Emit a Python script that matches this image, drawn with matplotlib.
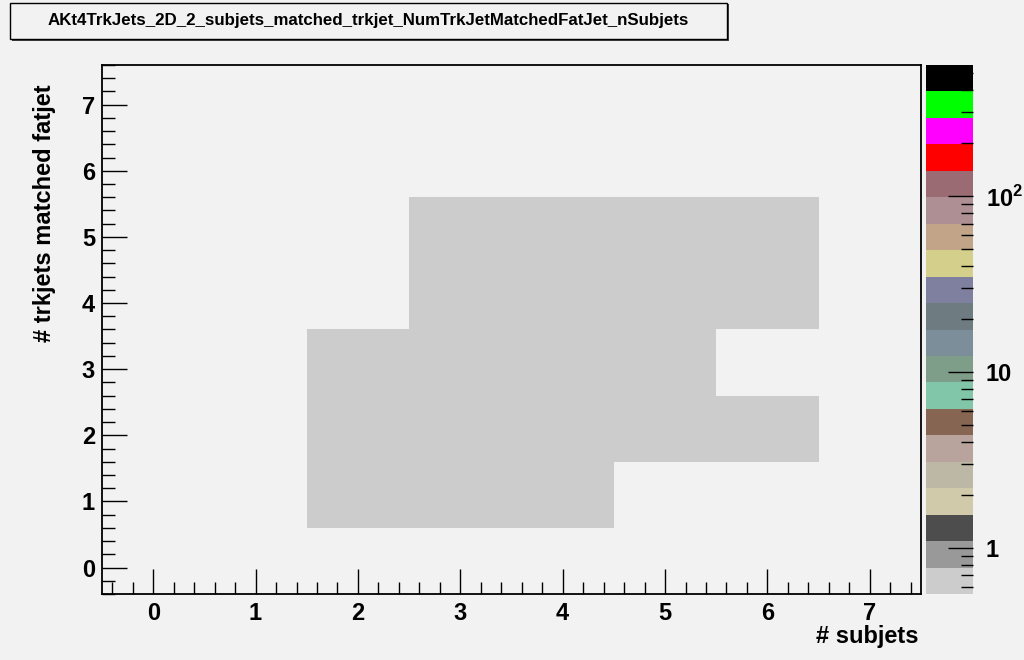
import matplotlib
matplotlib.use('Agg')
import matplotlib.pyplot as plt
import numpy as np
from matplotlib.colors import ListedColormap, LogNorm
from matplotlib.ticker import LogLocator, FixedLocator, NullFormatter
from matplotlib.patches import Rectangle

plt.rcParams['font.family'] = ['Liberation Sans', 'DejaVu Sans']
plt.rcParams['font.weight'] = 'bold'
plt.rcParams['mathtext.fontset'] = 'custom'
plt.rcParams['mathtext.rm'] = 'Liberation Sans:bold'
plt.rcParams['mathtext.bf'] = 'Liberation Sans:bold'

title = 'AKt4TrkJets_2D_2_subjets_matched_trkjet_NumTrkJetMatchedFatJet_nSubjets'
xlabel = '# subjets'
ylabel = '# trkjets matched fatjet'

# bin edges
x_edges = np.arange(-0.5, 8.0, 1.0)
y_edges = np.arange(-0.4, 8.1, 1.0)

# bin contents, rows = y bins (0..7), cols = x bins (0..7); 0 = empty
counts = np.array([
    [0, 0, 0,   0,   0,   0,   0,   0],
    [0, 0, 0.7, 0.7, 0.7, 0,   0,   0],
    [0, 0, 0.7, 0.7, 0.7, 0.7, 0.7, 0],
    [0, 0, 0.7, 0.7, 0.7, 0.7, 0,   0],
    [0, 0, 0,   0.7, 0.7, 0.7, 0.7, 0],
    [0, 0, 0,   0.7, 0.7, 0.7, 0.7, 0],
    [0, 0, 0,   0,   0,   0,   0,   0],
    [0, 0, 0,   0,   0,   0,   0,   0],
])

z_min, z_max = 0.548, 558.0

palette = ['#cccccc', '#999999', '#4d4d4d', '#d0caaa', '#bdb8a5',
           '#b8a39d', '#876553', '#81c6a8', '#7f9e8a', '#7b8e99',
           '#6e7b80', '#7f7f9f', '#d4d08b', '#c2a589', '#ae9094',
           '#9b6b73', '#ff0000', '#ff00ff', '#00ff00', '#000000']
cmap = ListedColormap(palette)

bg = '#f2f2f2'
fs = 17
fig = plt.figure(figsize=(10.24, 6.6), dpi=100, facecolor=bg)
ax = fig.add_axes([102/1024, 66/660, 819/1024, 529/660], facecolor=bg)
cax = fig.add_axes([926/1024, 66/660, 47/1024, 529/660])

masked = np.ma.masked_where(counts <= 0, counts)
mesh = ax.pcolormesh(x_edges, y_edges, masked, cmap=cmap,
                     norm=LogNorm(vmin=z_min, vmax=z_max))

ax.set_xlim(-0.5, 7.5)
ax.set_ylim(-0.4, 7.6)
ax.xaxis.set_major_locator(FixedLocator(range(0, 8)))
ax.yaxis.set_major_locator(FixedLocator(range(0, 8)))
ax.xaxis.set_minor_locator(FixedLocator(np.arange(-0.4, 7.5, 0.2)))
ax.yaxis.set_minor_locator(FixedLocator(np.arange(-0.4, 7.61, 0.2)))
ax.tick_params(which='both', direction='in', top=False, right=False,
               labelsize=fs, width=1)
ax.tick_params(which='major', length=18)
ax.tick_params(which='minor', length=9)
ax.tick_params(axis='x', pad=6)
ax.tick_params(axis='y', pad=5)
for s in ax.spines.values():
    s.set_linewidth(1.3)

cb = fig.colorbar(mesh, cax=cax)
cb.outline.set_visible(False)
cb.set_ticks([1, 10, 100])
cb.set_ticklabels(['1', '10', r'10$^{2}$'])
cax.yaxis.set_minor_locator(LogLocator(base=10, subs=np.arange(2, 10)))
cax.yaxis.set_minor_formatter(NullFormatter())
cax.tick_params(which='both', direction='in', right=True, left=False,
                labelsize=fs, width=1, pad=9)
cax.tick_params(which='major', length=18)
cax.tick_params(which='minor', length=9)

fig.text(918/1024, 1 - 636/660, xlabel, ha='right', va='center', fontsize=fs)
fig.text(45/1024, 1 - 84/660, ylabel, ha='center', va='top', rotation=90, fontsize=fs)

# title box with shadow
fig.patches.append(Rectangle((12/1024, 1 - 41/660), 717/1024, 37/660,
                             transform=fig.transFigure, facecolor='#444444',
                             edgecolor='none', zorder=1))
fig.patches.append(Rectangle((10/1024, 1 - 39/660), 717/1024, 36/660,
                             transform=fig.transFigure, facecolor=bg,
                             edgecolor='black', linewidth=1, zorder=2))
fig.text(368/1024, 1 - 21/660, title, ha='center', va='center', fontsize=12.2, zorder=3)

fig.savefig('out.png', dpi=100, facecolor=bg)
